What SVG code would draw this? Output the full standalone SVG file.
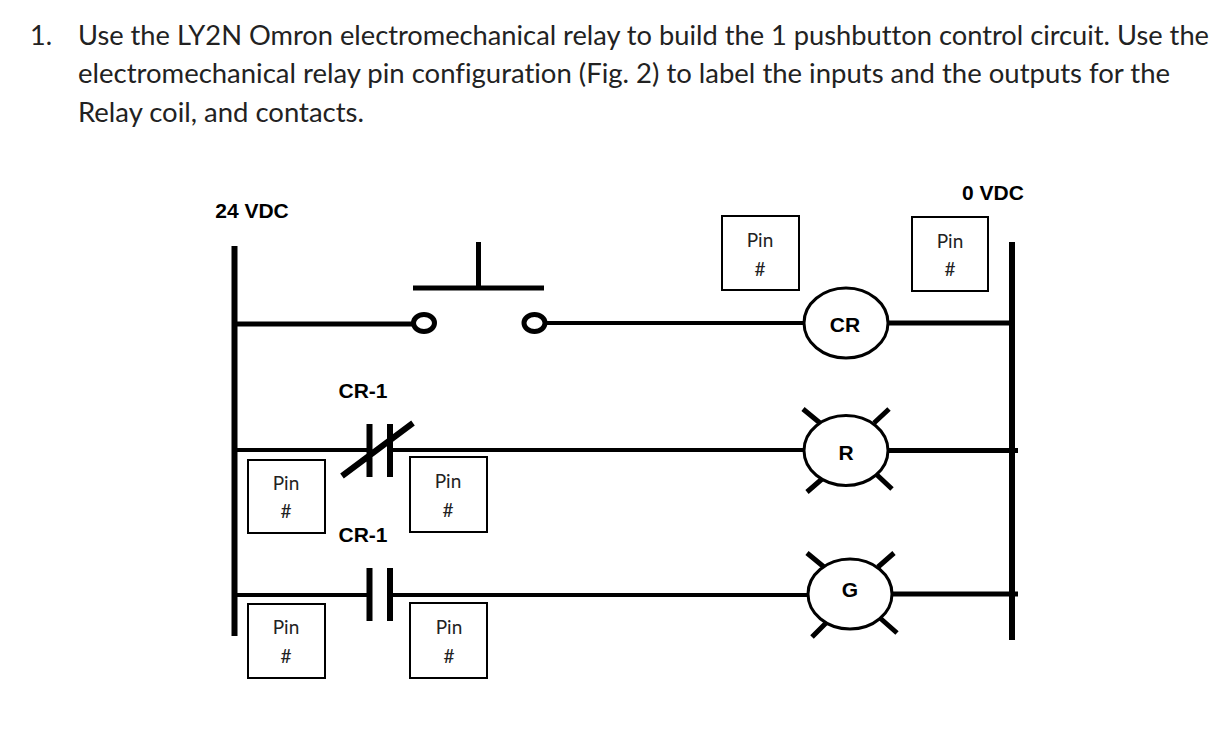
<svg xmlns="http://www.w3.org/2000/svg" width="1231" height="731" viewBox="0 0 1231 731">
<style>
.t{font-family:"Lato","Open Sans",sans-serif;font-size:27px;fill:#222;font-variant-ligatures:none}
.b{font-family:"Liberation Sans",Arial,sans-serif;font-size:21px;font-weight:bold;fill:#000;text-anchor:middle}
.p{font-family:"Lato","Open Sans",sans-serif;font-size:19px;fill:#222;text-anchor:middle}
.box{fill:#fff;stroke:#000;stroke-width:2}
.w{fill:none;stroke:#000;stroke-width:4}
.h{fill:none;stroke:#000;stroke-width:5}
.c{fill:#fff;stroke:#000;stroke-width:5}
.r{fill:none;stroke:#000;stroke-width:6}
.n{fill:#fff;stroke:#000;stroke-width:3}
</style>
<rect width="1231" height="731" fill="#fff"/>
<g id="heading">
<text class="t" x="30" y="44.500">1.</text>
<text class="t" x="78" y="44.500" textLength="1131" lengthAdjust="spacingAndGlyphs">Use the LY2N Omron electromechanical relay to build the 1 pushbutton control circuit. Use the</text>
<text class="t" x="78" y="82.500" textLength="1092" lengthAdjust="spacingAndGlyphs">electromechanical relay pin configuration (Fig. 2) to label the inputs and the outputs for the</text>
<text class="t" x="78" y="121.500" textLength="286" lengthAdjust="spacingAndGlyphs">Relay coil, and contacts.</text>
</g>
<g id="connectors">
<path class="r" d="M234.500 246V636M1012 242V640"/>
<path class="h" d="M235 324H414M889 323H1012M889 450.500H1018M889 594H1018"/>
<path class="w" d="M544 323H804M235 450H370M390 450H804M235 595H370M390 595H808"/>
</g>
<g id="label-24vdc"><text class="b" x="252" y="218">24 VDC</text></g>
<g id="label-0vdc"><text class="b" x="993" y="200">0 VDC</text></g>
<g id="pushbutton">
<path class="h" d="M478.500 242V288M413 288H544"/>
<ellipse class="c" cx="424" cy="323" rx="10.500" ry="8.500"/>
<ellipse class="c" cx="534.500" cy="323" rx="10.500" ry="8.500"/>
</g>
<g id="coil-cr">
<ellipse class="n" cx="846" cy="323" rx="42" ry="35"/>
<text class="b" x="845" y="332">CR</text>
</g>
<g id="lamp-r">
<path class="h" d="M803 409L820 423M889 409L874 423M807 492L822 479M892 489L876 474"/>
<ellipse class="n" cx="846" cy="450.500" rx="42" ry="35"/>
<text class="b" x="846" y="460">R</text>
</g>
<g id="lamp-g">
<path class="h" d="M807 553L824 567M894 553L878 567M812 637L826 623M897 633L880 618"/>
<ellipse class="n" cx="850" cy="594" rx="42" ry="35"/>
<text class="b" x="850" y="597">G</text>
</g>
<g id="contact-nc">
<text class="b" x="363" y="398">CR-1</text>
<path class="r" d="M369.500 424V477M390 424V477M342 476L413 423"/>
</g>
<g id="contact-no">
<text class="b" x="363" y="542">CR-1</text>
<path class="r" d="M369.500 568V621M390 568V621"/>
</g>
<g id="pin-coil-in"><rect class="box" x="722" y="216" width="77" height="74"/><text class="p" x="760" y="247">Pin</text><text class="p" x="760" y="276">#</text></g>
<g id="pin-coil-out"><rect class="box" x="912" y="217" width="76" height="74"/><text class="p" x="950" y="248">Pin</text><text class="p" x="950" y="276">#</text></g>
<g id="pin-nc-in"><rect class="box" x="248" y="460" width="77" height="73"/><text class="p" x="286" y="490">Pin</text><text class="p" x="286" y="518">#</text></g>
<g id="pin-nc-out"><rect class="box" x="410" y="457" width="77" height="75"/><text class="p" x="448" y="488">Pin</text><text class="p" x="448" y="517">#</text></g>
<g id="pin-no-in"><rect class="box" x="248" y="604" width="77" height="74"/><text class="p" x="286" y="634">Pin</text><text class="p" x="286" y="663">#</text></g>
<g id="pin-no-out"><rect class="box" x="410" y="603" width="77" height="75"/><text class="p" x="449" y="634">Pin</text><text class="p" x="449" y="663">#</text></g>
</svg>
